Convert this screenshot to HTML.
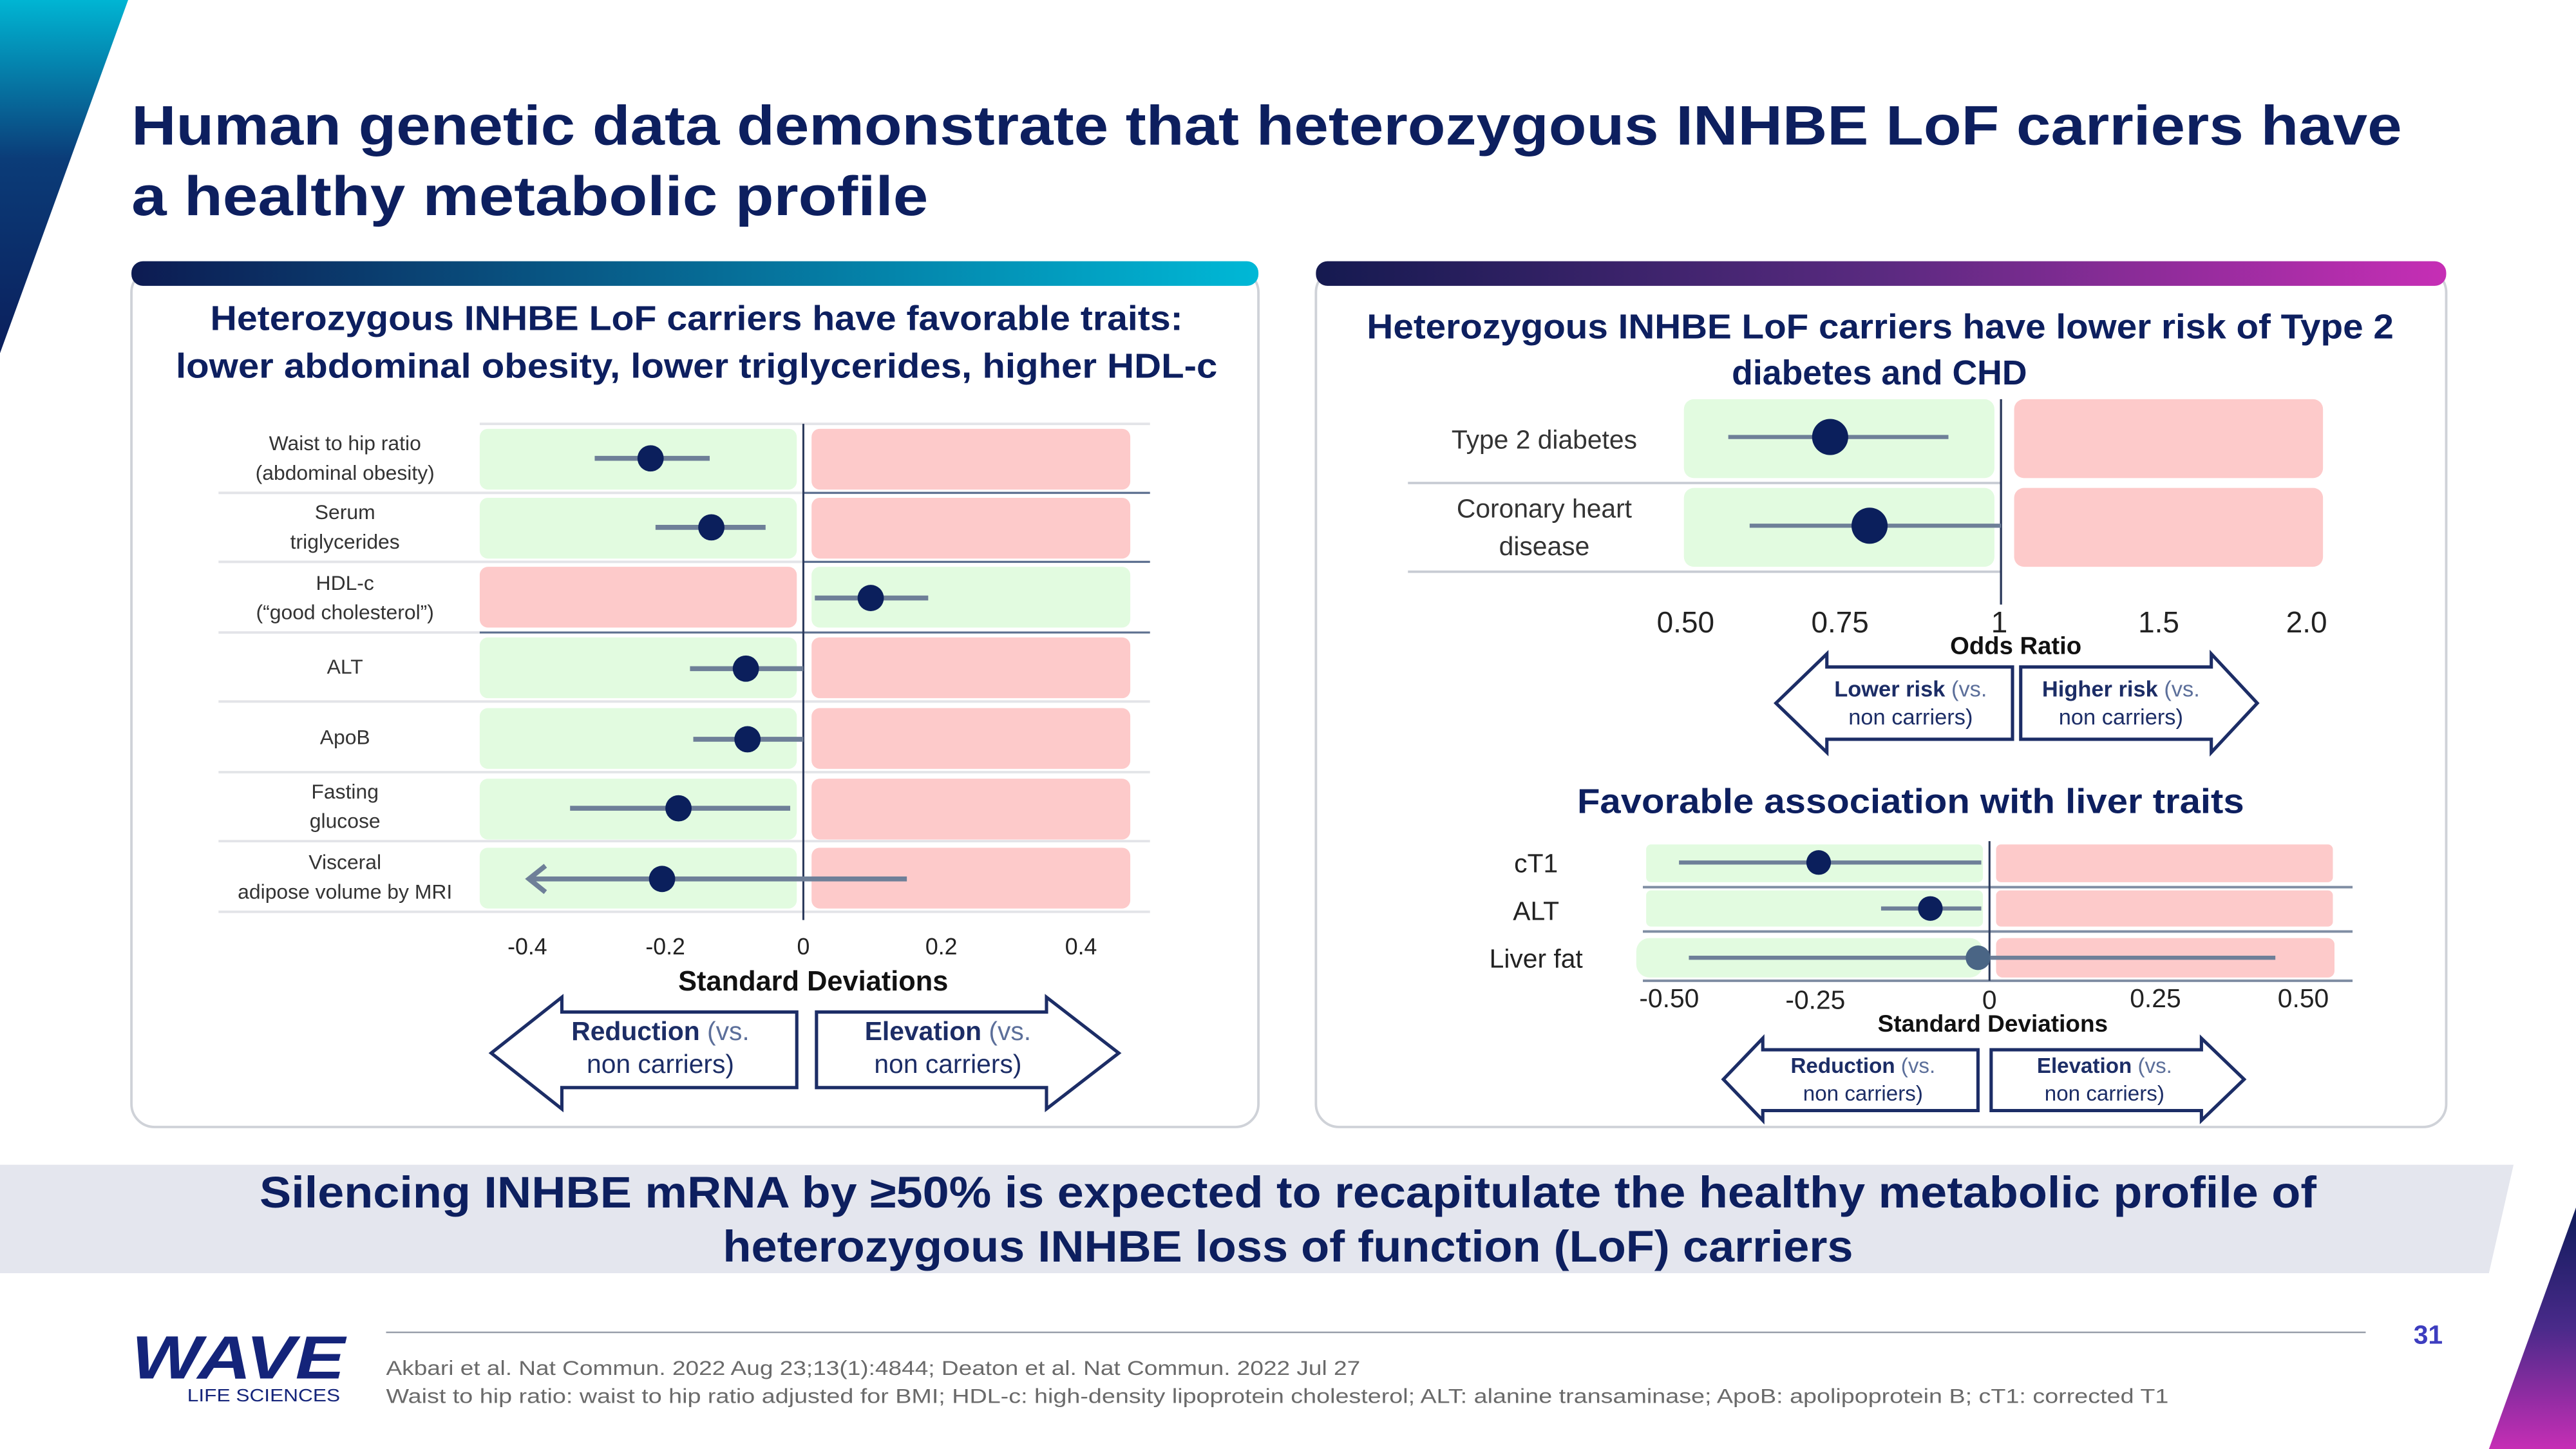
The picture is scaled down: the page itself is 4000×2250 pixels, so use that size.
<!DOCTYPE html>
<html><head><meta charset="utf-8"><style>
html,body{margin:0;padding:0;background:#fff;}
svg{display:block;}
text{font-family:"Liberation Sans",sans-serif;}
</style></head><body>
<svg width="4000" height="2250" viewBox="0 0 1568 882" preserveAspectRatio="none" xmlns="http://www.w3.org/2000/svg">
<defs>
<linearGradient id="tl" x1="0" y1="0" x2="0" y2="1"><stop offset="0" stop-color="#00b5d3"/><stop offset="0.45" stop-color="#0b3c78"/><stop offset="1" stop-color="#0b1f5c"/></linearGradient>
<linearGradient id="b1" x1="0" y1="0" x2="1" y2="0"><stop offset="0" stop-color="#0d1b52"/><stop offset="1" stop-color="#00b8d6"/></linearGradient>
<linearGradient id="b2" x1="0" y1="0" x2="1" y2="0"><stop offset="0" stop-color="#151a50"/><stop offset="0.5" stop-color="#5a2a80"/><stop offset="1" stop-color="#c62eb5"/></linearGradient>
<linearGradient id="br" x1="0" y1="0" x2="0" y2="1"><stop offset="0" stop-color="#0d1b5a"/><stop offset="0.5" stop-color="#4a2a8a"/><stop offset="1" stop-color="#c62eb5"/></linearGradient>
</defs>
<polygon points="0,0 78,0 0,215" fill="url(#tl)"/>
<polygon points="1568,735 1568,882 1515,882" fill="url(#br)"/>
<g fill="#0d1f5f" font-weight="bold" font-size="34">
<text x="80" y="88" textLength="1382" lengthAdjust="spacingAndGlyphs">Human genetic data demonstrate that heterozygous INHBE LoF carriers have</text>
<text x="80" y="131" textLength="485" lengthAdjust="spacingAndGlyphs">a healthy metabolic profile</text>
</g>
<!-- panels -->
<rect x="80" y="164" width="686" height="522" rx="14" fill="#fff" stroke="#cfd2d8" stroke-width="1.5"/>
<rect x="80" y="159" width="686" height="15" rx="7" fill="url(#b1)"/>
<rect x="801" y="164" width="688" height="522" rx="14" fill="#fff" stroke="#cfd2d8" stroke-width="1.5"/>
<rect x="801" y="159" width="688" height="15" rx="7" fill="url(#b2)"/>

<!-- LEFT -->
<g fill="#0d1f5f" font-weight="bold" font-size="21">
<text x="128" y="201" textLength="592" lengthAdjust="spacingAndGlyphs">Heterozygous INHBE LoF carriers have favorable traits:</text>
<text x="107" y="230" textLength="634" lengthAdjust="spacingAndGlyphs">lower abdominal obesity, lower triglycerides, higher HDL-c</text>
</g>
<g>
<!-- rows boxes -->
<rect x="292" y="261" width="193" height="37" rx="5" fill="#e2fbe0"/><rect x="494" y="261" width="194" height="37" rx="5" fill="#fdcaca"/>
<rect x="292" y="303" width="193" height="37" rx="5" fill="#e2fbe0"/><rect x="494" y="303" width="194" height="37" rx="5" fill="#fdcaca"/>
<rect x="292" y="345" width="193" height="37" rx="5" fill="#fdcaca"/><rect x="494" y="345" width="194" height="37" rx="5" fill="#e2fbe0"/>
<rect x="292" y="388" width="193" height="37" rx="5" fill="#e2fbe0"/><rect x="494" y="388" width="194" height="37" rx="5" fill="#fdcaca"/>
<rect x="292" y="431" width="193" height="37" rx="5" fill="#e2fbe0"/><rect x="494" y="431" width="194" height="37" rx="5" fill="#fdcaca"/>
<rect x="292" y="474" width="193" height="37" rx="5" fill="#e2fbe0"/><rect x="494" y="474" width="194" height="37" rx="5" fill="#fdcaca"/>
<rect x="292" y="516" width="193" height="37" rx="5" fill="#e2fbe0"/><rect x="494" y="516" width="194" height="37" rx="5" fill="#fdcaca"/>
<g stroke="#e3e4e8" stroke-width="1.5">
<line x1="292" y1="258" x2="700" y2="258"/>
<line x1="133" y1="300" x2="700" y2="300"/><line x1="133" y1="342" x2="700" y2="342"/><line x1="133" y1="385" x2="700" y2="385"/>
<line x1="133" y1="427" x2="700" y2="427"/><line x1="133" y1="470" x2="700" y2="470"/><line x1="133" y1="512" x2="700" y2="512"/><line x1="133" y1="555" x2="700" y2="555"/>
</g>
<g stroke="#5d7090" stroke-width="1.2"><line x1="489" y1="300" x2="700" y2="300"/><line x1="489" y1="342" x2="700" y2="342"/><line x1="292" y1="385" x2="700" y2="385"/></g>
<line x1="489" y1="258" x2="489" y2="560" stroke="#2b3a5c" stroke-width="1.2"/>
<g stroke="#6e7f98" stroke-width="3">
<line x1="362" y1="279" x2="432" y2="279"/><line x1="399" y1="321" x2="466" y2="321"/><line x1="496" y1="364" x2="565" y2="364"/>
<line x1="420" y1="407" x2="489" y2="407"/><line x1="422" y1="450" x2="489" y2="450"/><line x1="347" y1="492" x2="481" y2="492"/>
<line x1="324" y1="535" x2="552" y2="535"/><polyline points="332,527 322,535 332,543" fill="none"/>
</g>
<g fill="#0b1f5c">
<circle cx="396" cy="279" r="8"/><circle cx="433" cy="321" r="8"/><circle cx="530" cy="364" r="8"/>
<circle cx="454" cy="407" r="8"/><circle cx="455" cy="450" r="8"/><circle cx="413" cy="492" r="8"/><circle cx="403" cy="535" r="8"/>
</g>
<g fill="#333" font-size="12.5" text-anchor="middle">
<text x="210" y="274">Waist to hip ratio</text><text x="210" y="292">(abdominal obesity)</text>
<text x="210" y="316">Serum</text><text x="210" y="334">triglycerides</text>
<text x="210" y="359">HDL-c</text><text x="210" y="377">(“good cholesterol”)</text>
<text x="210" y="410">ALT</text><text x="210" y="453">ApoB</text>
<text x="210" y="486">Fasting</text><text x="210" y="504">glucose</text>
<text x="210" y="529">Visceral</text><text x="210" y="547">adipose volume by MRI</text>
</g>
<g fill="#222" font-size="14" text-anchor="middle">
<text x="321" y="581">-0.4</text><text x="405" y="581">-0.2</text><text x="489" y="581">0</text><text x="573" y="581">0.2</text><text x="658" y="581">0.4</text>
</g>
<text x="495" y="603" text-anchor="middle" font-size="17" font-weight="bold" fill="#111">Standard Deviations</text>
<g fill="#fff" stroke="#1c2d66" stroke-width="2">
<polygon points="485,616 342,616 342,607 299,641 342,675 342,662 485,662"/>
<polygon points="497,616 637,616 637,607 681,641 637,675 637,662 497,662"/>
</g>
<g font-size="16" text-anchor="middle">
<text x="402" y="633"><tspan font-weight="bold" fill="#1c2d66">Reduction</tspan><tspan fill="#5c6f9a"> (vs.</tspan></text>
<text x="402" y="653" fill="#1c2d66">non carriers)</text>
<text x="577" y="633"><tspan font-weight="bold" fill="#1c2d66">Elevation</tspan><tspan fill="#5c6f9a"> (vs.</tspan></text>
<text x="577" y="653" fill="#1c2d66">non carriers)</text>
</g>
</g>

<!-- RIGHT TOP -->
<g fill="#0d1f5f" font-weight="bold" font-size="21">
<text x="832" y="206" textLength="625" lengthAdjust="spacingAndGlyphs">Heterozygous INHBE LoF carriers have lower risk of Type 2</text>
<text x="1144" y="234" text-anchor="middle">diabetes and CHD</text>
</g>
<rect x="1025" y="243" width="189" height="48" rx="6" fill="#e2fbe0"/><rect x="1226" y="243" width="188" height="48" rx="6" fill="#fdcaca"/>
<rect x="1025" y="297" width="189" height="48" rx="6" fill="#e2fbe0"/><rect x="1226" y="297" width="188" height="48" rx="6" fill="#fdcaca"/>
<line x1="857" y1="294" x2="1218" y2="294" stroke="#c8ccd4" stroke-width="1.5"/>
<line x1="857" y1="348" x2="1218" y2="348" stroke="#c8ccd4" stroke-width="1.5"/>
<line x1="1218" y1="243" x2="1218" y2="368" stroke="#2b3a5c" stroke-width="1.3"/>
<g stroke="#6e7f98" stroke-width="2.5"><line x1="1052" y1="266" x2="1186" y2="266"/><line x1="1065" y1="320" x2="1218" y2="320"/></g>
<g fill="#0b1f5c"><circle cx="1114" cy="266" r="11"/><circle cx="1138" cy="320" r="11"/></g>
<g fill="#333" font-size="16" text-anchor="middle">
<text x="940" y="273">Type 2 diabetes</text>
<text x="940" y="315">Coronary heart</text><text x="940" y="338">disease</text>
</g>
<g fill="#222" font-size="18" text-anchor="middle">
<text x="1026" y="385">0.50</text><text x="1120" y="385">0.75</text><text x="1217" y="385">1</text><text x="1314" y="385">1.5</text><text x="1404" y="385">2.0</text>
</g>
<text x="1227" y="398" text-anchor="middle" font-size="15" font-weight="bold" fill="#111">Odds Ratio</text>
<g fill="#fff" stroke="#1c2d66" stroke-width="2">
<polygon points="1225,406 1112,406 1112,398 1081,428 1112,458 1112,450 1225,450"/>
<polygon points="1230,406 1346,406 1346,398 1374,428 1346,458 1346,450 1230,450"/>
</g>
<g font-size="13.5" text-anchor="middle">
<text x="1163" y="424"><tspan font-weight="bold" fill="#1c2d66">Lower risk</tspan><tspan fill="#5c6f9a"> (vs.</tspan></text>
<text x="1163" y="441" fill="#1c2d66">non carriers)</text>
<text x="1291" y="424"><tspan font-weight="bold" fill="#1c2d66">Higher risk</tspan><tspan fill="#5c6f9a"> (vs.</tspan></text>
<text x="1291" y="441" fill="#1c2d66">non carriers)</text>
</g>

<!-- RIGHT LIVER -->
<text x="1163" y="495" text-anchor="middle" font-size="21" font-weight="bold" fill="#0d1f5f" textLength="406" lengthAdjust="spacingAndGlyphs">Favorable association with liver traits</text>
<rect x="1002" y="514" width="205" height="23" rx="3" fill="#e2fbe0"/><rect x="1215" y="514" width="205" height="23" rx="3" fill="#fdcaca"/>
<rect x="1002" y="542" width="205" height="22" rx="3" fill="#e2fbe0"/><rect x="1215" y="542" width="205" height="22" rx="3" fill="#fdcaca"/>
<rect x="996" y="571" width="211" height="24" rx="8" fill="#e2fbe0"/><rect x="1215" y="571" width="206" height="24" rx="4" fill="#fdcaca"/>
<g stroke="#7f8da3" stroke-width="1.5"><line x1="1000" y1="540" x2="1432" y2="540"/><line x1="1000" y1="567" x2="1432" y2="567"/><line x1="1000" y1="597" x2="1432" y2="597"/></g>
<line x1="1211" y1="512" x2="1211" y2="597" stroke="#2b3a5c" stroke-width="1.2"/>
<g stroke="#6e7f98" stroke-width="2.5">
<line x1="1022" y1="525" x2="1206" y2="525"/><line x1="1145" y1="553" x2="1206" y2="553"/><line x1="1028" y1="583" x2="1385" y2="583"/>
</g>
<circle cx="1107" cy="525" r="7.5" fill="#0b1f5c"/><circle cx="1175" cy="553" r="7.5" fill="#0b1f5c"/><circle cx="1204" cy="583" r="7.5" fill="#4a6585"/>
<g fill="#222" font-size="16" text-anchor="middle">
<text x="935" y="531">cT1</text><text x="935" y="560">ALT</text><text x="935" y="589">Liver fat</text>
</g>
<g fill="#222" font-size="16" text-anchor="middle">
<text x="1016" y="613">-0.50</text><text x="1105" y="614">-0.25</text><text x="1211" y="614">0</text><text x="1312" y="613">0.25</text><text x="1402" y="613">0.50</text>
</g>
<text x="1213" y="628" text-anchor="middle" font-size="14.5" font-weight="bold" fill="#111">Standard Deviations</text>
<g fill="#fff" stroke="#1c2d66" stroke-width="2">
<polygon points="1204,639 1073,639 1073,632 1049,657 1073,682 1073,676 1204,676"/>
<polygon points="1212,639 1340,639 1340,632 1366,657 1340,682 1340,676 1212,676"/>
</g>
<g font-size="13" text-anchor="middle">
<text x="1134" y="653"><tspan font-weight="bold" fill="#1c2d66">Reduction</tspan><tspan fill="#5c6f9a"> (vs.</tspan></text>
<text x="1134" y="670" fill="#1c2d66">non carriers)</text>
<text x="1281" y="653"><tspan font-weight="bold" fill="#1c2d66">Elevation</tspan><tspan fill="#5c6f9a"> (vs.</tspan></text>
<text x="1281" y="670" fill="#1c2d66">non carriers)</text>
</g>

<!-- band -->
<polygon points="0,709 1530,709 1515,775 0,775" fill="#e4e6ee"/>
<g fill="#0d1f5f" font-weight="bold" font-size="27">
<text x="158" y="735" textLength="1252" lengthAdjust="spacingAndGlyphs">Silencing INHBE mRNA by ≥50% is expected to recapitulate the healthy metabolic profile of</text>
<text x="440" y="768" textLength="688" lengthAdjust="spacingAndGlyphs">heterozygous INHBE loss of function (LoF) carriers</text>
</g>

<!-- footer -->
<text x="80" y="839" font-size="37" font-weight="bold" fill="#14247a" textLength="130" lengthAdjust="spacingAndGlyphs" font-style="italic">WAVE</text>
<text x="114" y="853" font-size="11" fill="#14247a" textLength="93" lengthAdjust="spacingAndGlyphs">LIFE SCIENCES</text>
<line x1="235" y1="811" x2="1440" y2="811" stroke="#9aa0ab" stroke-width="1"/>
<text x="1478" y="818" text-anchor="middle" font-size="16" font-weight="bold" fill="#3d3dbf">31</text>
<g fill="#6a6a6a" font-size="12.5">
<text x="235" y="837" textLength="593" lengthAdjust="spacingAndGlyphs">Akbari et al. Nat Commun. 2022 Aug 23;13(1):4844; Deaton et al. Nat Commun. 2022 Jul 27</text>
<text x="235" y="854" textLength="1085" lengthAdjust="spacingAndGlyphs">Waist to hip ratio: waist to hip ratio adjusted for BMI; HDL-c: high-density lipoprotein cholesterol; ALT: alanine transaminase; ApoB: apolipoprotein B; cT1: corrected T1</text>
</g>
</svg>
</body></html>
